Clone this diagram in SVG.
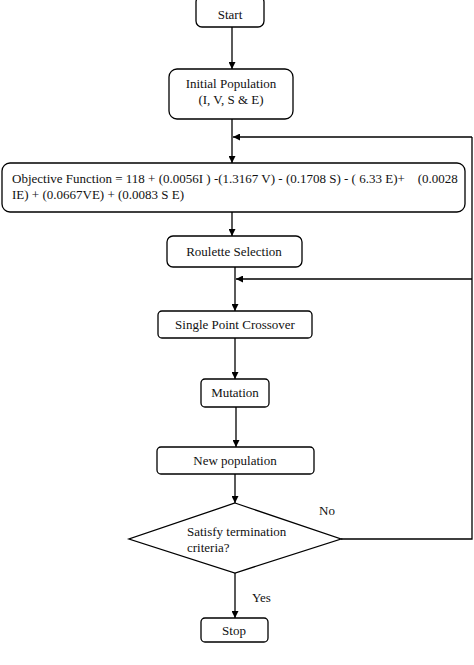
<svg xmlns="http://www.w3.org/2000/svg" width="474" height="665" viewBox="0 0 474 665">
<defs>
<marker id="ah" viewBox="0 0 10 10" refX="10" refY="5" markerWidth="7" markerHeight="7" markerUnits="userSpaceOnUse" orient="auto">
<path d="M0,0 L10,5 L0,10 z" fill="#000"/>
</marker>
<style>
.box{fill:#fff;stroke:#000;stroke-width:1.3}
text{font-family:'Liberation Serif','Times New Roman',Times,serif;font-size:13px;fill:#111}
.c{text-anchor:middle}
.ln{fill:none;stroke:#000;stroke-width:1.3}
.ar{fill:none;stroke:#000;stroke-width:1.3;marker-end:url(#ah)}
</style>
</defs>
<rect width="474" height="665" fill="#fff"/>
<g id="connectors">
<line class="ar" x1="232" y1="27" x2="232" y2="69"/>
<line class="ar" x1="232" y1="119" x2="232" y2="163"/>
<line class="ar" x1="472" y1="137" x2="233" y2="137"/>
<line class="ar" x1="232" y1="212" x2="232" y2="236"/>
<line class="ar" x1="235" y1="267" x2="235" y2="311"/>
<line class="ar" x1="472" y1="279" x2="236" y2="279"/>
<line class="ar" x1="235" y1="338" x2="235" y2="379"/>
<line class="ar" x1="236" y1="407" x2="236" y2="447"/>
<line class="ar" x1="235" y1="474" x2="235" y2="503"/>
<polyline class="ln" points="341,539 472,539 472,137"/>
<line class="ar" x1="235" y1="573" x2="235" y2="618"/>
<text x="319" y="515">No</text>
<text x="252" y="602">Yes</text>
</g>
<g id="start">
<rect class="box" x="196" y="-4" width="68" height="31" rx="6"/>
<text class="c" x="230" y="19">Start</text>
</g>
<g id="initial">
<rect class="box" x="169" y="69" width="124" height="50" rx="8"/>
<text class="c" x="231" y="88">Initial Population</text>
<text class="c" x="231" y="104">(I, V, S &amp; E)</text>
</g>
<g id="objective">
<rect class="box" x="2" y="163" width="463" height="49" rx="8"/>
<text x="12" y="183" xml:space="preserve">Objective Function = 118 + (0.0056I ) -(1.3167 V) - (0.1708 S) - ( 6.33 E)+    (0.0028</text>
<text x="12" y="199">IE) + (0.0667VE) + (0.0083 S E)</text>
</g>
<g id="roulette">
<rect class="box" x="167" y="236" width="135" height="31" rx="6"/>
<text class="c" x="234" y="256">Roulette Selection</text>
</g>
<g id="crossover">
<rect class="box" x="158" y="311" width="154" height="27" rx="4"/>
<text class="c" x="235" y="329">Single Point Crossover</text>
</g>
<g id="mutation">
<rect class="box" x="201" y="379" width="68" height="28" rx="4"/>
<text class="c" x="235" y="397">Mutation</text>
</g>
<g id="newpop">
<rect class="box" x="157" y="447" width="157" height="27" rx="4"/>
<text class="c" x="235" y="465">New population</text>
</g>
<g id="decision">
<polygon class="box" points="235,503 341,539 235,573 129,539"/>
<text x="187" y="536">Satisfy termination</text>
<text x="187" y="552">criteria?</text>
</g>
<g id="stop">
<rect class="box" x="201" y="618" width="67" height="24" rx="4"/>
<text class="c" x="234" y="635">Stop</text>
</g>
</svg>
